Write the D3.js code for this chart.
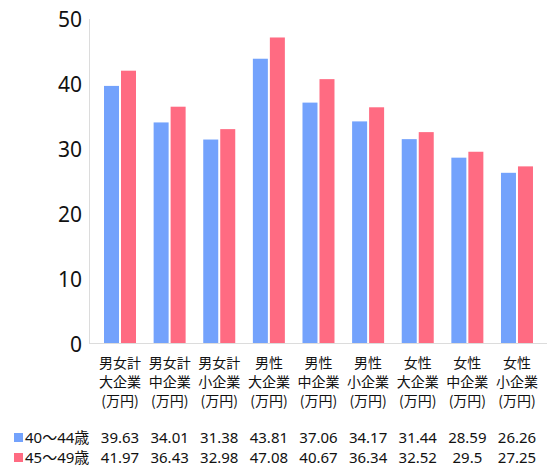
<!DOCTYPE html>
<html>
<head>
<meta charset="utf-8">
<script src="https://cdn.jsdelivr.net/npm/d3@7"></script>
<style>
  body { margin: 0; background: #fff; }
  text { font-family: "Noto Sans", "Noto Sans CJK JP", sans-serif; fill: #111; }
</style>
</head>
<body>
<div id="chart-container"></div>
<script>
// chart data
const categories = [
    "男女計\n大企業\n(万円)", "男女計\n中企業\n(万円)", "男女計\n小企業\n(万円)",
    "男性\n大企業\n(万円)", "男性\n中企業\n(万円)", "男性\n小企業\n(万円)",
    "女性\n大企業\n(万円)", "女性\n中企業\n(万円)", "女性\n小企業\n(万円)"
];
const seriesNames = ["40〜44歳", "45〜49歳"];
const values4044 = [39.63, 34.01, 31.38, 43.81, 37.06, 34.17, 31.44, 28.59, 26.26];
const values4549 = [41.97, 36.43, 32.98, 47.08, 40.67, 36.34, 32.52, 29.5, 27.25];
const valueLabels4549 = ["41.97", "36.43", "32.98", "47.08", "40.67", "36.34", "32.52", "29.5", "27.25"];
const yTicks = [0, 10, 20, 30, 40, 50];

const seriesValues = [values4044, values4549];
const seriesLabels = [values4044.map(v => v.toFixed(2)), valueLabels4549];

const drawChart = () => {
    const width = 560;
    const height = 472;
    const colors = d3.scaleOrdinal()
        .domain(seriesNames)
        .range(["#73a2fc", "#ff6b82"]);

    const svg = d3.select('#chart-container')
        .append('svg')
        .attr("width", width)
        .attr("height", height);

    // scales
    const x = d3.scaleBand()
        .domain(categories)
        .range([95.2, 541.8]);
    const x1 = d3.scaleBand()
        .domain(seriesNames)
        .range([8.8, 40.8])
        .paddingInner(0.1176);
    const y = d3.scaleLinear()
        .domain([0, 50])
        .range([343.5, 18.5]);

    // y axis (labels only, light line)
    const yAxis = svg.append("g")
        .attr("transform", "translate(89,0)")
        .call(d3.axisLeft(y).tickValues(yTicks).tickSize(0).tickPadding(7));
    yAxis.select(".domain").attr("stroke", "#dcdcdc");
    yAxis.selectAll("text")
        .attr("font-size", 21)
        .attr("font-family", "'Noto Sans', sans-serif")
        .attr("fill", "#111")
        .attr("dy", "0.4em");

    // bars
    const groups = svg.append("g")
        .selectAll("g")
        .data(categories)
        .join("g")
        .attr("transform", d => `translate(${x(d)},0)`);

    groups.selectAll("rect")
        .data((d, i) => seriesNames.map((s, k) => ({ s, v: seriesValues[k][i] })))
        .join("rect")
        .attr("x", d => x1(d.s))
        .attr("width", x1.bandwidth())
        .attr("y", d => y(d.v))
        .attr("height", d => y(0) - y(d.v))
        .attr("fill", d => colors(d.s));

    // baseline
    svg.append("line")
        .attr("x1", 89).attr("x2", 547)
        .attr("y1", y(0)).attr("y2", y(0))
        .attr("stroke", "#dcdcdc");

    // category labels (CJK font so the parens stay narrow)
    svg.append("g")
        .attr("font-size", 14)
        .attr("text-anchor", "middle")
        .selectAll("text")
        .data(categories)
        .join("text")
        .style("font-family", "'Noto Sans CJK JP', sans-serif")
        .attr("transform", d => `translate(${x(d) + x.bandwidth() / 2},0)`)
        .call(text => text.selectAll("tspan")
            .data(d => d.split("\n"))
            .join("tspan")
            .attr("x", 0)
            .attr("y", (d, i) => 368 + i * 19)
            .text(d => d));

    // legend table
    const rows = svg.append("g")
        .selectAll("g")
        .data(seriesNames)
        .join("g")
        .attr("transform", (d, i) => `translate(0,${437.5 + i * 20})`);

    rows.append("rect")
        .attr("x", 14)
        .attr("y", -4.5)
        .attr("width", 9)
        .attr("height", 9)
        .attr("fill", d => colors(d));

    rows.append("text")
        .attr("x", 25)
        .attr("dy", "0.36em")
        .attr("font-size", 15)
        .text(d => d);

    rows.selectAll("text.val")
        .data((d, k) => seriesLabels[k].map((label, i) => ({ label, cat: categories[i] })))
        .join("text")
        .attr("class", "val")
        .attr("x", d => x(d.cat) + x.bandwidth() / 2)
        .attr("dy", "0.36em")
        .attr("text-anchor", "middle")
        .attr("font-size", 15)
        .text(d => d.label);
};

drawChart();
</script>
</body>
</html>
